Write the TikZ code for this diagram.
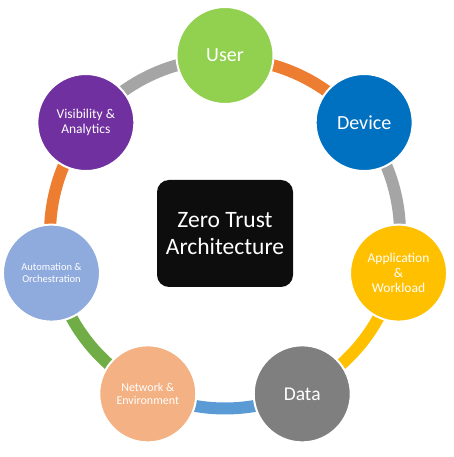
\documentclass[tikz,border=0pt]{standalone}
\usepackage{fontspec}
\setmainfont{Carlito}
\definecolor{cUser}{HTML}{92D050}
\definecolor{cDevice}{HTML}{0070C0}
\definecolor{cApp}{HTML}{FFC000}
\definecolor{cData}{HTML}{7F7F7F}
\definecolor{cNet}{HTML}{F4B183}
\definecolor{cAuto}{HTML}{8FAADC}
\definecolor{cVis}{HTML}{7030A0}
\definecolor{aOrange}{HTML}{ED7D31}
\definecolor{aGray}{HTML}{A5A5A5}
\definecolor{aGold}{HTML}{FFC000}
\definecolor{aBlue}{HTML}{5B9BD5}
\definecolor{aGreen}{HTML}{70AD47}
\definecolor{boxblack}{HTML}{0D0D0D}
\tikzset{
  hub/.style={circle, minimum size=97pt, inner sep=0pt, draw=white, line width=2pt, text=white, align=center},
  ring/.style={line width=12pt, line cap=butt},
  centerbox/.style={rounded corners=12pt, fill=boxblack, minimum width=136pt, minimum height=107pt, text=white, align=center, inner sep=0pt}
}
\begin{document}
\begin{tikzpicture}[x=1pt,y=1pt]
\useasboundingbox (0,0) rectangle (454,457);
\coordinate (O) at (225,223.5);
% arcs
\foreach \a/\c in {90/aOrange, 38.571/aGray, -12.857/aGold, -64.286/aBlue, -115.714/aGreen, -167.143/aOrange, -218.571/aGray}{
  \pgfmathsetmacro{\s}{\a-15.5}
  \pgfmathsetmacro{\e}{\a-35.929}
  \draw[ring, draw=\c] ([shift={(\s:175)}]O) arc[start angle=\s, end angle=\e, radius=175];
}
% nodes
\node[hub, fill=cUser, font=\fontsize{20}{24}\selectfont] (user) at ([shift={(90:178)}]O) {User};
\node[hub, fill=cDevice, font=\fontsize{20}{24}\selectfont] (device) at ([shift={(38.571:178)}]O) {Device};
\node[hub, fill=cApp, font=\fontsize{13.5}{15}\selectfont] (app) at ([shift={(-12.857:178)}]O) {Application\\\&\\Workload};
\node[hub, fill=cData, font=\fontsize{19.5}{23}\selectfont] (data) at ([shift={(-64.286:178)}]O) {Data};
\node[hub, fill=cNet, font=\fontsize{12}{13}\selectfont] (net) at ([shift={(-115.714:178)}]O) {Network \&\\Environment};
\node[hub, fill=cAuto, font=\fontsize{10.5}{11.5}\selectfont] (auto) at ([shift={(-167.143:178)}]O) {Automation \&\\Orchestration};
\node[hub, fill=cVis, font=\fontsize{13.5}{15}\selectfont] (vis) at ([shift={(-218.571:178)}]O) {Visibility \&\\Analytics};
% center
\node[centerbox, font=\fontsize{23.5}{27}\selectfont] (zta) at (O) {Zero Trust\\Architecture};
\end{tikzpicture}
\end{document}
